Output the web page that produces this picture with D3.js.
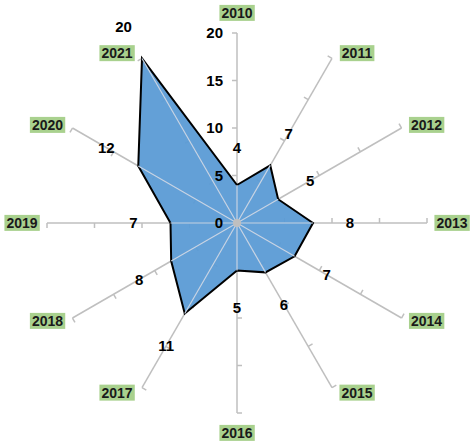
<!DOCTYPE html><html><head><meta charset="utf-8"><script src="https://cdn.jsdelivr.net/npm/d3@7"></script>
<style>body{margin:0;background:#fff}</style></head><body><svg width="474" height="445"></svg><script>
const categories=["2010","2011","2012","2013","2014","2015","2016","2017","2018","2019","2020","2021"];
const values=[4,7,5,8,7,6,5,11,8,7,12,20];
const tickValues=[0,5,10,15,20];
const svg=d3.select("svg"),cx=237,cy=223,R=190;
const r=d3.scaleLinear().domain([0,20]).range([0,R]);
const ang=d3.scaleLinear().domain([0,12]).range([0,2*Math.PI]);
const pt=(i,d)=>[cx+d*Math.sin(ang(i)),cy-d*Math.cos(ang(i))];
const g=svg.append("g");
categories.forEach((c,i)=>{const e=pt(i,R);
 g.append("line").attr("x1",cx).attr("y1",cy).attr("x2",e[0]).attr("y2",e[1]).attr("stroke","#bfbfbf").attr("stroke-width",1.5);
 tickValues.slice(1).forEach(t=>{const p=pt(i,r(t)),a=ang(i);
  g.append("line").attr("x1",p[0]).attr("y1",p[1]).attr("x2",p[0]-5*Math.cos(a)).attr("y2",p[1]-5*Math.sin(a)).attr("stroke","#bfbfbf").attr("stroke-width",1.5);});
});
svg.append("path").attr("d",d3.line()(values.map((v,i)=>pt(i,r(v))))+"Z").attr("fill","#5b9bd5").attr("fill-opacity",0.95).attr("stroke","#000").attr("stroke-width",2);
categories.forEach((c,i)=>{
 svg.append("line").attr("x1",cx).attr("y1",cy).attr("x2",pt(i,r(values[i]))[0]).attr("y2",pt(i,r(values[i]))[1]).attr("stroke","#c8d4e4").attr("stroke-width",1.2);});
svg.append("circle").attr("cx",cx).attr("cy",cy).attr("r",4).attr("fill","#bfbfbf");
tickValues.forEach(t=>svg.append("text").attr("x",cx-14).attr("y",cy-r(t)).attr("dy","0.35em").attr("text-anchor","end").attr("font-family","Liberation Sans, Arial").attr("font-size",15).attr("font-weight","bold").text(t));
values.forEach((v,i)=>{const p=pt(i,r(v)+37);
 svg.append("text").attr("x",p[0]).attr("y",p[1]).attr("dy","0.35em").attr("text-anchor","middle").attr("font-family","Liberation Sans, Arial").attr("font-size",15).attr("font-weight","bold").text(v);});
categories.forEach((c,i)=>{const e=pt(i,R),a=ang(i),s=Math.sin(a),co=Math.cos(a);
 const dx=Math.abs(s)>0.1?25*Math.sign(s):0;
 const dy=Math.abs(co)>0.99?-co*20:-co*6;
 const t=svg.append("text").attr("x",e[0]+dx).attr("y",e[1]+dy).attr("dy","0.35em").attr("text-anchor","middle").attr("font-family","Liberation Sans, Arial").attr("font-size",14).attr("font-weight","bold").attr("fill","#1a1a1a").text(c);
 const b=t.node().getBBox();
 svg.insert("rect","text").attr("x",b.x-2).attr("y",b.y).attr("width",b.width+4).attr("height",b.height).attr("fill","#a9d18e");
});
</script></body></html>
